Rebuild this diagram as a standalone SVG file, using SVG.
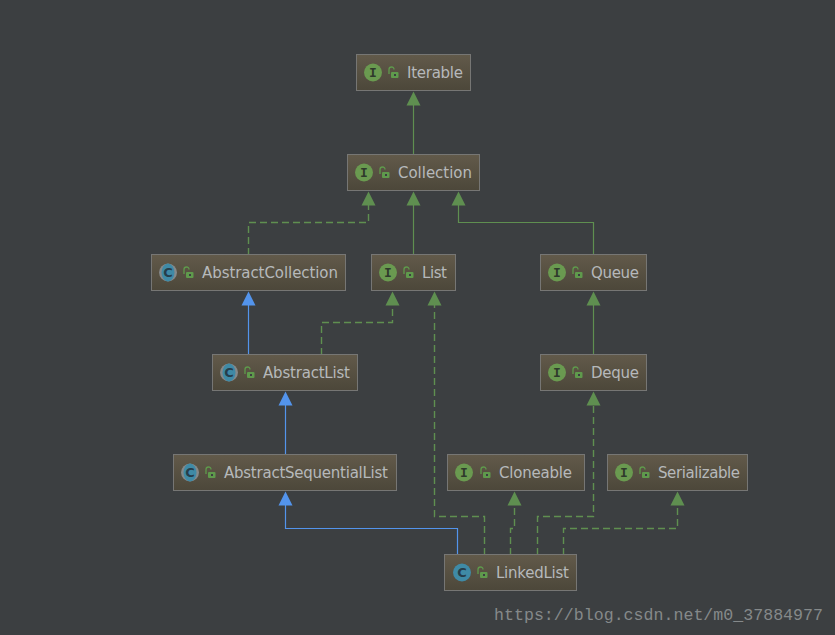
<svg xmlns="http://www.w3.org/2000/svg" width="835" height="635" viewBox="0 0 835 635">
<style>
.box{fill:url(#nb);stroke:#767674;stroke-width:1}
.t{font-family:"DejaVu Sans",sans-serif;font-size:15px;fill:#b6b9bb}
.k{font-family:"DejaVu Sans Mono","Liberation Mono",monospace;font-size:13px;font-weight:bold;fill:#2f3a2c;text-anchor:middle}
.kc{font-family:"DejaVu Sans",sans-serif;font-size:13px;font-weight:bold;fill:#263d4a;text-anchor:middle}
.g{fill:none;stroke:#5f8f50;stroke-width:1.2}
.d{stroke-dasharray:7 4;stroke-width:1.4}
.b{fill:none;stroke:#5394ec;stroke-width:1.2}
.ga{fill:#5f8f50}.ba{fill:#5394ec}
.w{font-family:"Liberation Mono","DejaVu Sans Mono",monospace;font-size:16.6px;fill:#85898a}
</style>
<defs>
<linearGradient id="nb" x1="0" y1="0" x2="0" y2="1"><stop offset="0" stop-color="#625a4a"/><stop offset="1" stop-color="#4c473a"/></linearGradient>
<g id="lock"><path d="M-4 1V-3.500Q-4-6-1.500-6T1-3.500" fill="none" stroke="#5f9a4c" stroke-width="1.300"/><rect x="-2" y="-1" width="7.500" height="6" rx="1" fill="#5f9a4c"/><rect x="1" y="1" width="2" height="2" fill="#3c3f41"/></g>
<g id="i"><circle r="9" fill="#6a9a50"/><text class="k" y="4.500">I</text></g>
<g id="c"><circle r="9" fill="#3f8aa6"/><text class="kc" y="4.700">C</text></g>
<g id="ac"><circle r="9" fill="#85898a"/><ellipse rx="6.500" ry="9" fill="#3f8aa6"/><text class="kc" y="4.700">C</text></g>
</defs>
<rect width="835" height="635" fill="#3c3f41"/>
<g id="connectors">
<path class="g" d="M413.500 105V155"/><path class="ga" d="M413.500 91.500l7 14h-14z"/>
<path class="g d" d="M248.500 255V222.500H368.500V205"/><path class="ga" d="M368.500 191.500l7 14h-14z"/>
<path class="g" d="M413.500 255V205"/><path class="ga" d="M413.500 191.500l7 14h-14z"/>
<path class="g" d="M593.500 255V222.500H458.500V205"/><path class="ga" d="M458.500 191.500l7 14h-14z"/>
<path class="b" d="M248.500 355V305"/><path class="ba" d="M248.500 291.500l7 14h-14z"/>
<path class="g d" d="M321.500 355V322.500H392.500V305"/><path class="ga" d="M392.500 291.500l7 14h-14z"/>
<path class="g" d="M593.500 355V305"/><path class="ga" d="M593.500 291.500l7 14h-14z"/>
<path class="b" d="M285.500 455V405"/><path class="ba" d="M285.500 391.500l7 14h-14z"/>
<path class="b" d="M457.500 555V528.500H285.500V505"/><path class="ba" d="M285.500 491.500l7 14h-14z"/>
<path class="g d" d="M484.500 555V516.500H434.500V305"/><path class="ga" d="M434.500 291.500l7 14h-14z"/>
<path class="g d" d="M510.500 555V528.500H514.500V505"/><path class="ga" d="M514.500 491.500l7 14h-14z"/>
<path class="g d" d="M537.500 555V516.500H593.500V405"/><path class="ga" d="M593.500 391.500l7 14h-14z"/>
<path class="g d" d="M563.500 555V528.500H677.500V505"/><path class="ga" d="M677.500 491.500l7 14h-14z"/>
</g>
<g id="node-iterable"><rect class="box" x="356.500" y="54.500" width="114" height="36"/><use href="#i" x="373" y="72.500"/><use href="#lock" x="393" y="73"/><text class="t" x="407" y="77.500" textLength="56">Iterable</text></g>
<g id="node-collection"><rect class="box" x="347.500" y="154.500" width="132" height="36"/><use href="#i" x="364" y="172.500"/><use href="#lock" x="384" y="173"/><text class="t" x="398" y="177.500" textLength="74">Collection</text></g>
<g id="node-abstractcollection"><rect class="box" x="151.500" y="254.500" width="194" height="36"/><use href="#ac" x="168" y="272.500"/><use href="#lock" x="188" y="273"/><text class="t" x="202" y="277.500" textLength="136">AbstractCollection</text></g>
<g id="node-list"><rect class="box" x="371.500" y="254.500" width="84" height="36"/><use href="#i" x="388" y="272.500"/><use href="#lock" x="408" y="273"/><text class="t" x="422" y="277.500" textLength="25">List</text></g>
<g id="node-queue"><rect class="box" x="540.500" y="254.500" width="106" height="36"/><use href="#i" x="557" y="272.500"/><use href="#lock" x="577" y="273"/><text class="t" x="591" y="277.500" textLength="48">Queue</text></g>
<g id="node-abstractlist"><rect class="box" x="212.500" y="354.500" width="145" height="36"/><use href="#ac" x="229" y="372.500"/><use href="#lock" x="249" y="373"/><text class="t" x="263" y="377.500" textLength="87">AbstractList</text></g>
<g id="node-deque"><rect class="box" x="540.500" y="354.500" width="106" height="36"/><use href="#i" x="557" y="372.500"/><use href="#lock" x="577" y="373"/><text class="t" x="591" y="377.500" textLength="48">Deque</text></g>
<g id="node-abstractsequentiallist"><rect class="box" x="173.500" y="454.500" width="223" height="36"/><use href="#ac" x="190" y="472.500"/><use href="#lock" x="210" y="473"/><text class="t" x="224" y="477.500" textLength="164">AbstractSequentialList</text></g>
<g id="node-cloneable"><rect class="box" x="447.500" y="454.500" width="137" height="36"/><use href="#i" x="464" y="472.500"/><use href="#lock" x="485" y="473"/><text class="t" x="499" y="477.500" textLength="73">Cloneable</text></g>
<g id="node-serializable"><rect class="box" x="607.500" y="454.500" width="140" height="36"/><use href="#i" x="624" y="472.500"/><use href="#lock" x="644" y="473"/><text class="t" x="658" y="477.500" textLength="82">Serializable</text></g>
<g id="node-linkedlist"><rect class="box" x="444.500" y="554.500" width="132" height="36"/><use href="#c" x="462" y="572.500"/><use href="#lock" x="482" y="573"/><text class="t" x="496" y="577.500" textLength="73">LinkedList</text></g>
<text class="w" x="494" y="620" textLength="329">https://blog.csdn.net/m0_37884977</text>
</svg>
